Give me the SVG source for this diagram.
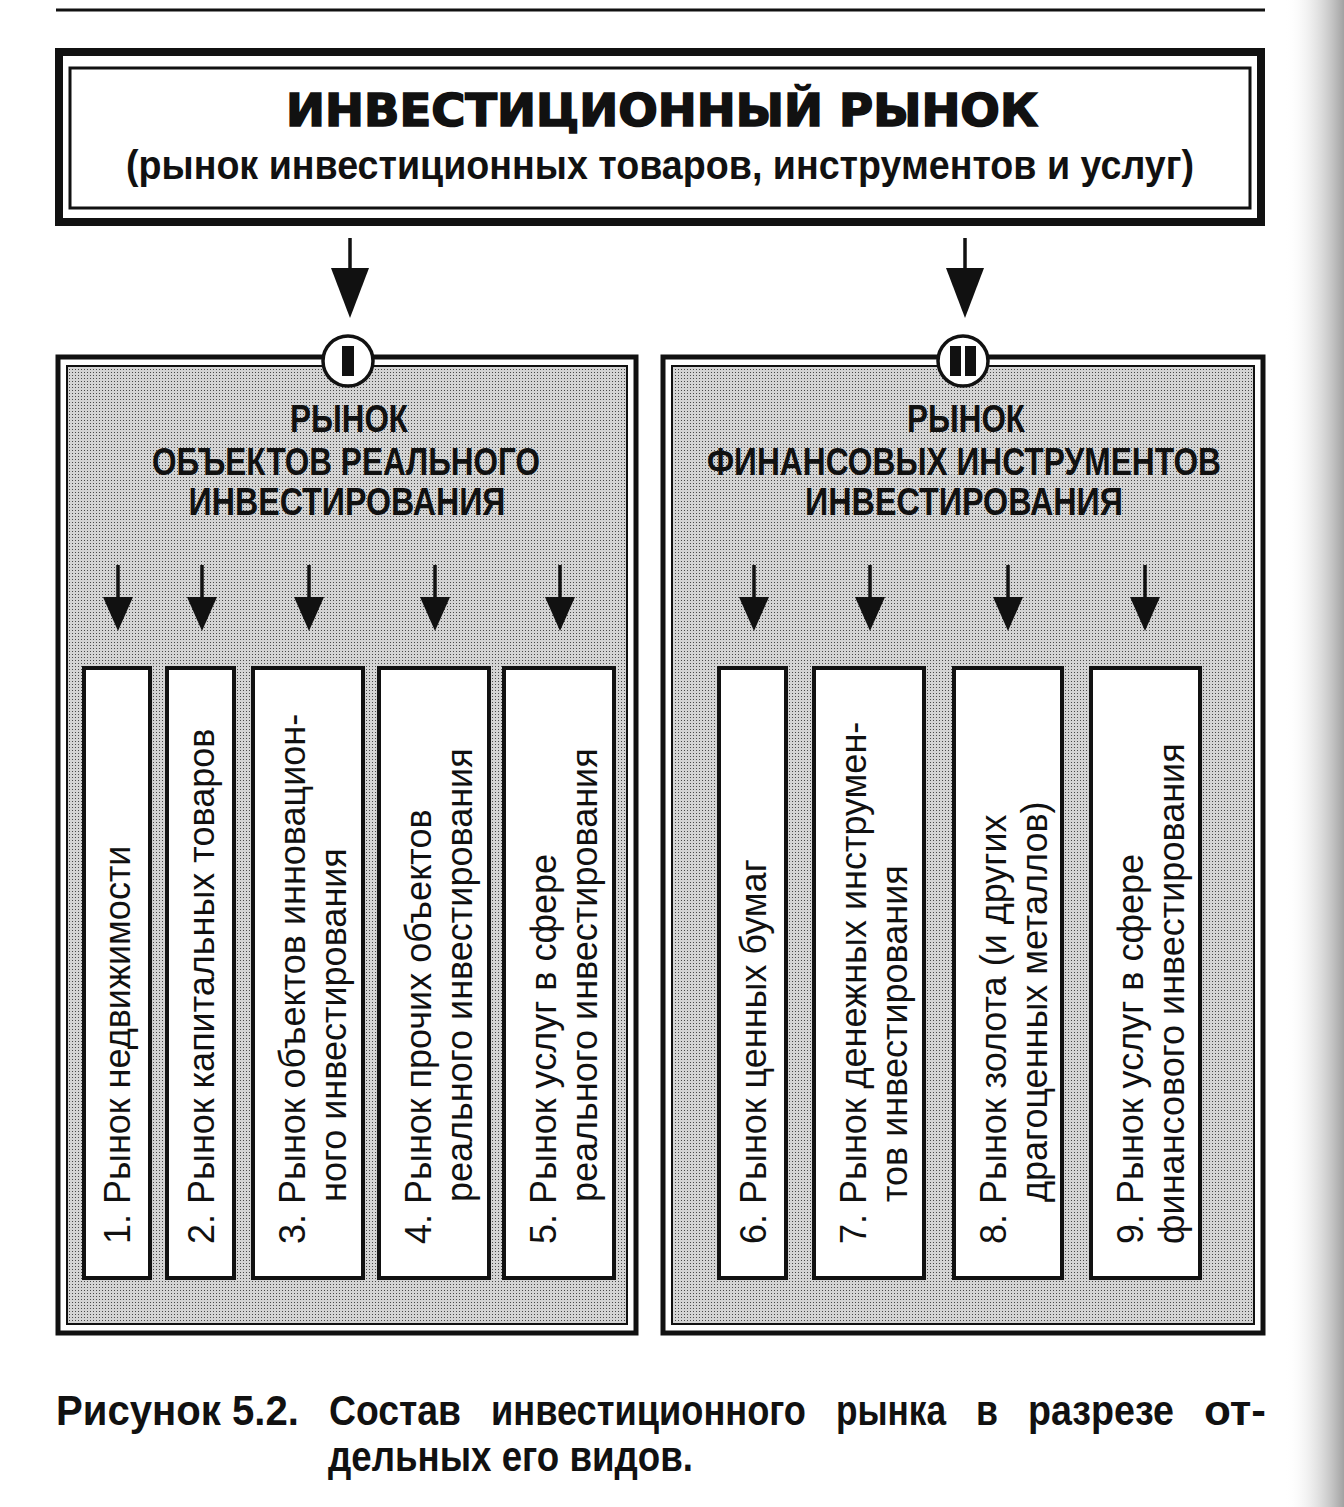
<svg xmlns="http://www.w3.org/2000/svg" width="1344" height="1507" viewBox="0 0 1344 1507">
<defs>
<style>
.bx{fill:#fff;stroke:#111;stroke-width:4}
.bt{font-family:"Liberation Sans",Arial,sans-serif;font-size:36px;fill:#111}
.pt{font-family:"Liberation Sans",Arial,sans-serif;font-size:39px;font-weight:bold;fill:#111;text-anchor:middle}
.cap{font-family:"Liberation Sans",Arial,sans-serif;font-size:42px;font-weight:bold;fill:#111}
.ln{stroke:#111;stroke-width:3.5;fill:none}
.ah{fill:#111}
</style>
<pattern id="dots" width="3" height="3" patternUnits="userSpaceOnUse">
<rect width="3" height="3" fill="#d4d4d4"/>
<rect width="1" height="1" fill="#4a4a4a"/>
</pattern>
<linearGradient id="shade" x1="0" y1="0" x2="1" y2="0">
<stop offset="0" stop-color="#fff" stop-opacity="0"/>
<stop offset="1" stop-color="#8a8a8a" stop-opacity="0.8"/>
</linearGradient>
</defs>
<rect width="1344" height="1507" fill="#fff"/>
<rect x="1285" y="0" width="59" height="1507" fill="url(#shade)"/>
<line x1="56" y1="10" x2="1265" y2="10" stroke="#111" stroke-width="3"/>

<g id="top">
<rect x="59" y="52" width="1202" height="170" fill="#fff" stroke="#111" stroke-width="8"/>
<rect x="70" y="68" width="1180" height="140" fill="#fff" stroke="#111" stroke-width="3"/>
<text x="662" y="126" text-anchor="middle" font-family="'DejaVu Sans',sans-serif" font-weight="bold" font-size="45" stroke="#111" stroke-width="1.6" fill="#111" textLength="752" lengthAdjust="spacingAndGlyphs">ИНВЕСТИЦИОННЫЙ РЫНОК</text>
<text x="660" y="179" text-anchor="middle" font-family="'Liberation Sans',Arial,sans-serif" font-weight="bold" font-size="40" fill="#111" textLength="1068" lengthAdjust="spacingAndGlyphs">(рынок инвестиционных товаров, инструментов и услуг)</text>
</g>

<g id="panel1">
<rect x="58" y="357" width="578" height="976" fill="#fff" stroke="#111" stroke-width="5"/>
<rect x="67" y="366" width="560" height="958" fill="url(#dots)" stroke="#111" stroke-width="2"/>
<circle cx="348" cy="361" r="25" fill="#fff" stroke="#111" stroke-width="3.5"/>
<rect x="342" y="346" width="12" height="30" fill="#111"/>
<text class="pt" x="349" y="432" textLength="118" lengthAdjust="spacingAndGlyphs">РЫНОК</text>
<text class="pt" x="346" y="475" textLength="388" lengthAdjust="spacingAndGlyphs">ОБЪЕКТОВ  РЕАЛЬНОГО</text>
<text class="pt" x="347" y="515" textLength="317" lengthAdjust="spacingAndGlyphs">ИНВЕСТИРОВАНИЯ</text>
</g>

<g id="panel2">
<rect x="663" y="357" width="600" height="976" fill="#fff" stroke="#111" stroke-width="5"/>
<rect x="672" y="366" width="582" height="958" fill="url(#dots)" stroke="#111" stroke-width="2"/>
<circle cx="963" cy="361" r="25" fill="#fff" stroke="#111" stroke-width="3.5"/>
<rect x="950" y="346" width="11" height="30" fill="#111"/>
<rect x="965" y="346" width="11" height="30" fill="#111"/>
<text class="pt" x="966" y="432" textLength="118" lengthAdjust="spacingAndGlyphs">РЫНОК</text>
<text class="pt" x="964" y="475" textLength="514" lengthAdjust="spacingAndGlyphs">ФИНАНСОВЫХ  ИНСТРУМЕНТОВ</text>
<text class="pt" x="964" y="515" textLength="318" lengthAdjust="spacingAndGlyphs">ИНВЕСТИРОВАНИЯ</text>
</g>

<g id="connectors">
<line class="ln" x1="350" y1="238" x2="350" y2="272"/>
<polygon class="ah" points="331,268 369,268 350,318"/>
<line class="ln" x1="965" y1="238" x2="965" y2="272"/>
<polygon class="ah" points="946,268 984,268 965,318"/>
<line class="ln" x1="118" y1="565" x2="118" y2="600"/>
<polygon class="ah" points="103,597 133,597 118,631"/>
<line class="ln" x1="202" y1="565" x2="202" y2="600"/>
<polygon class="ah" points="187,597 217,597 202,631"/>
<line class="ln" x1="309" y1="565" x2="309" y2="600"/>
<polygon class="ah" points="294,597 324,597 309,631"/>
<line class="ln" x1="435" y1="565" x2="435" y2="600"/>
<polygon class="ah" points="420,597 450,597 435,631"/>
<line class="ln" x1="560" y1="565" x2="560" y2="600"/>
<polygon class="ah" points="545,597 575,597 560,631"/>
<line class="ln" x1="754" y1="565" x2="754" y2="600"/>
<polygon class="ah" points="739,597 769,597 754,631"/>
<line class="ln" x1="870" y1="565" x2="870" y2="600"/>
<polygon class="ah" points="855,597 885,597 870,631"/>
<line class="ln" x1="1008" y1="565" x2="1008" y2="600"/>
<polygon class="ah" points="993,597 1023,597 1008,631"/>
<line class="ln" x1="1145" y1="565" x2="1145" y2="600"/>
<polygon class="ah" points="1130,597 1160,597 1145,631"/>
</g>

<g id="b1">
<rect class="bx" x="84" y="668" width="66" height="610"/>
<text class="bt" transform="translate(130,1244) rotate(-90)">1. Рынок недвижимости</text>
</g>
<g id="b2">
<rect class="bx" x="167" y="668" width="67" height="610"/>
<text class="bt" transform="translate(214,1244) rotate(-90)">2. Рынок капитальных товаров</text>
</g>
<g id="b3">
<rect class="bx" x="253" y="668" width="110" height="610"/>
<text class="bt" transform="translate(305,1244) rotate(-90)">3. Рынок объектов инновацион-</text>
<text class="bt" transform="translate(346,1202) rotate(-90)">ного инвестирования</text>
</g>
<g id="b4">
<rect class="bx" x="379" y="668" width="110" height="610"/>
<text class="bt" transform="translate(431,1244) rotate(-90)">4. Рынок прочих объектов</text>
<text class="bt" transform="translate(472,1202) rotate(-90)">реального инвестирования</text>
</g>
<g id="b5">
<rect class="bx" x="504" y="668" width="110" height="610"/>
<text class="bt" transform="translate(556,1244) rotate(-90)">5. Рынок услуг в сфере</text>
<text class="bt" transform="translate(597,1202) rotate(-90)">реального инвестирования</text>
</g>
<g id="b6">
<rect class="bx" x="719" y="668" width="67" height="610"/>
<text class="bt" transform="translate(766,1244) rotate(-90)">6. Рынок ценных бумаг</text>
</g>
<g id="b7">
<rect class="bx" x="814" y="668" width="110" height="610"/>
<text class="bt" transform="translate(866,1244) rotate(-90)">7. Рынок денежных инструмен-</text>
<text class="bt" transform="translate(907,1202) rotate(-90)">тов инвестирования</text>
</g>
<g id="b8">
<rect class="bx" x="954" y="668" width="108" height="610"/>
<text class="bt" transform="translate(1006,1244) rotate(-90)">8. Рынок золота (и других</text>
<text class="bt" transform="translate(1047,1202) rotate(-90)">драгоценных металлов)</text>
</g>
<g id="b9">
<rect class="bx" x="1091" y="668" width="109" height="610"/>
<text class="bt" transform="translate(1143,1244) rotate(-90)">9. Рынок услуг в сфере</text>
<text class="bt" transform="translate(1184,1244) rotate(-90)">финансового инвестирования</text>
</g>

<g id="caption">
<text class="cap" x="56" y="1425" textLength="243" lengthAdjust="spacingAndGlyphs">Рисунок 5.2.</text>
<text class="cap" x="329" y="1425" textLength="132" lengthAdjust="spacingAndGlyphs">Состав</text>
<text class="cap" x="491" y="1425" textLength="315" lengthAdjust="spacingAndGlyphs">инвестиционного</text>
<text class="cap" x="836" y="1425" textLength="110" lengthAdjust="spacingAndGlyphs">рынка</text>
<text class="cap" x="976" y="1425" textLength="22" lengthAdjust="spacingAndGlyphs">в</text>
<text class="cap" x="1028" y="1425" textLength="146" lengthAdjust="spacingAndGlyphs">разрезе</text>
<text class="cap" x="1204" y="1425" textLength="62" lengthAdjust="spacingAndGlyphs">от-</text>
<text class="cap" x="328" y="1471" textLength="365" lengthAdjust="spacingAndGlyphs">дельных его видов.</text>
</g>
</svg>
